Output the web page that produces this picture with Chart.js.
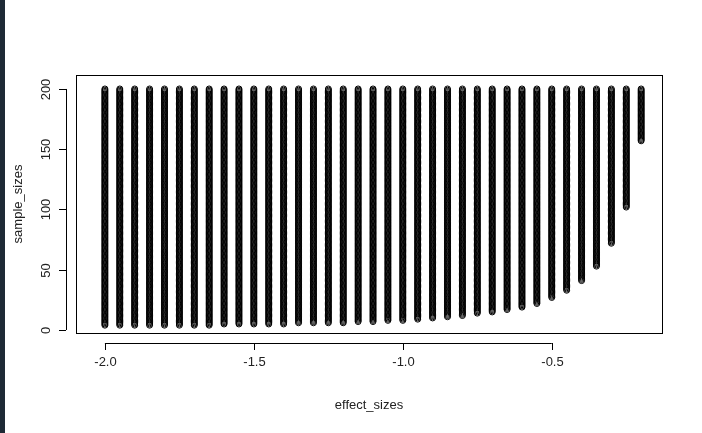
<!DOCTYPE html>
<html><head><meta charset="utf-8">
<script src="https://cdn.jsdelivr.net/npm/chart.js"></script>
<style>html,body{margin:0;padding:0;background:#fff}#w{width:702px;height:433px}</style>
</head><body><div id="w"><canvas id="c"></canvas></div>
<script>
const effectSizes=[-2.0,-1.95,-1.9,-1.85,-1.8,-1.75,-1.7,-1.65,-1.6,-1.55,-1.5,-1.45,-1.4,-1.35,-1.3,-1.25,-1.2,-1.15,-1.1,-1.05,-1.0,-0.95,-0.9,-0.85,-0.8,-0.75,-0.7,-0.65,-0.6,-0.55,-0.5,-0.45,-0.4,-0.35,-0.3,-0.25,-0.2];
const minSampleSizes=[4,4,4,4,4,4,4,4,5,5,5,5,5,6,6,6,6,7,7,8,8,9,10,11,12,14,15,17,19,22,27,33,41,53,72,102,157];
const maxSampleSize=200;
const xTicks=[-2.0,-1.5,-1.0,-0.5];
const xTickLabels=["-2.0","-1.5","-1.0","-0.5"];
const yTicks=[0,50,100,150,200];
const pts=[];
effectSizes.forEach((e,i)=>{for(let n=minSampleSizes[i];n<=maxSampleSize;n++)pts.push({x:e,y:n});});
const F='"Liberation Sans", Arial, sans-serif';
const axesPlugin={id:'ax',afterDraw(ch){
  const c=ch.ctx,a=ch.chartArea,xs=ch.scales.x,ys=ch.scales.y;
  c.save();
  c.fillStyle='#1e2a36';c.fillRect(0,0,5,433);
  c.strokeStyle='#000';c.lineWidth=1;
  c.strokeRect(a.left+0.5,a.top+0.5,a.right-a.left,a.bottom-a.top);
  c.fillStyle='#222';c.font='13px '+F;
  // x axis
  const x0=xs.getPixelForValue(xTicks[0]),x1=xs.getPixelForValue(effectSizes[effectSizes.length-1]);
  const ax=a.bottom+10;
  c.beginPath();c.moveTo(x0,ax+0.5);c.lineTo(xs.getPixelForValue(xTicks[xTicks.length-1]),ax+0.5);c.stroke();
  c.textAlign='center';c.textBaseline='top';
  xTicks.forEach((t,i)=>{const p=Math.round(xs.getPixelForValue(t))+0.5;c.beginPath();c.moveTo(p,ax);c.lineTo(p,ax+7);c.stroke();c.fillText(xTickLabels[i],p,ax+13);});
  // y axis
  const ayx=a.left-10;
  c.beginPath();c.moveTo(ayx+0.5,ys.getPixelForValue(0));c.lineTo(ayx+0.5,ys.getPixelForValue(200));c.stroke();
  yTicks.forEach(t=>{const p=Math.round(ys.getPixelForValue(t))+0.5;c.beginPath();c.moveTo(ayx-7,p);c.lineTo(ayx,p);c.stroke();
    c.save();c.translate(ayx-13,p);c.rotate(-Math.PI/2);c.textAlign='center';c.textBaseline='bottom';c.fillText(String(t),0,0);c.restore();});
  c.textAlign='center';c.textBaseline='middle';
  c.fillText('effect_sizes',(a.left+a.right)/2,405);
  c.save();c.translate(18,(a.top+a.bottom)/2);c.rotate(-Math.PI/2);c.fillText('sample_sizes',0,0);c.restore();
  c.restore();
}};
new Chart(document.getElementById('c'),{type:'scatter',
 data:{datasets:[{data:pts,pointRadius:3,pointBorderWidth:1,pointBorderColor:'#000',pointBackgroundColor:'rgba(255,255,255,0)'}]},
 options:{responsive:true,maintainAspectRatio:false,animation:false,
  layout:{padding:{left:76,right:40,top:75,bottom:100}},
  plugins:{legend:{display:false},tooltip:{enabled:false}},
  scales:{x:{type:'linear',min:-2.097,max:-0.13,display:false},y:{type:'linear',min:-2.5,max:211.6,display:false}}},
 plugins:[axesPlugin]});
</script></body></html>
